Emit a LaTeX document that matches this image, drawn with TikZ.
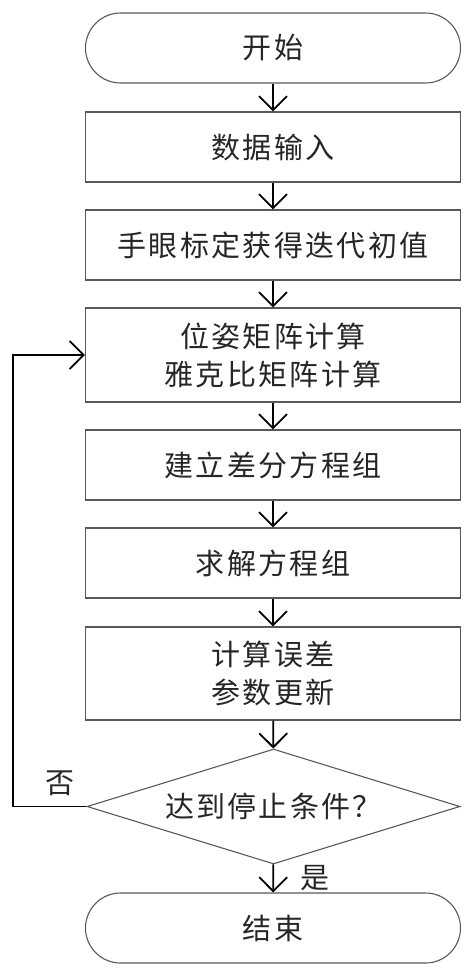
\documentclass[tikz,border=0pt]{standalone}
\usepackage{fontspec}
\newfontfamily\cjk[LetterSpace=8]{Noto Sans CJK SC}
\usetikzlibrary{arrows.meta,shapes.geometric}
\begin{document}
\begin{tikzpicture}[x=1pt,y=-1pt,
  every node/.style={font=\cjk\fontsize{29}{38}\selectfont, text=black!85},
  box/.style={draw=black!65, line width=1.1pt, minimum width=375pt, inner sep=0pt, align=center},
  term/.style={box, rounded corners=35pt, minimum height=70pt},
  dec/.style={draw=black!65, line width=1.1pt, diamond, aspect=3.24, inner sep=0pt, minimum width=373pt, minimum height=115pt},
  flow/.style={draw=black, line width=1.8pt, -{Straight Barb[length=14pt,width=28pt,line width=1.8pt]}},
  lbl/.style={inner sep=1pt}
]
\useasboundingbox (0,0) rectangle (474,978);
\node[term] (start) at (273,48) {开始};
\node[box, minimum height=70pt] (b1) at (273,147) {数据输入};
\node[box, minimum height=70pt] (b2) at (273,245) {手眼标定获得迭代初值};
\node[box, minimum height=94pt] (b3) at (273,355) {位姿矩阵计算\\雅克比矩阵计算};
\node[box, minimum height=70pt] (b4) at (273,465) {建立差分方程组};
\node[box, minimum height=70pt] (b5) at (273,563) {求解方程组};
\node[box, minimum height=93pt] (b6) at (273,673.5) {计算误差\\参数更新};
\node[dec] (d) at (273.5,806.5) {达到停止条件？};
\node[term] (end) at (273,928) {结束};
\coordinate (lb) at (13,806.5);
\coordinate (lt) at (13,355);
\draw[flow] (start) -- (b1);
\draw[flow] (b1) -- (b2);
\draw[flow] (b2) -- (b3);
\draw[flow] (b3) -- (b4);
\draw[flow] (b4) -- (b5);
\draw[flow] (b5) -- (b6);
\draw[flow] (b6) -- (d);
\draw[flow] (d) -- (end);
\draw[flow] (d.west) -- (lb) -- (lt) -- (b3.west);
\node[lbl] (no) at (60,783) {否};
\node[lbl, fill=white] (yes) at (315,878) {是};
\end{tikzpicture}
\end{document}
